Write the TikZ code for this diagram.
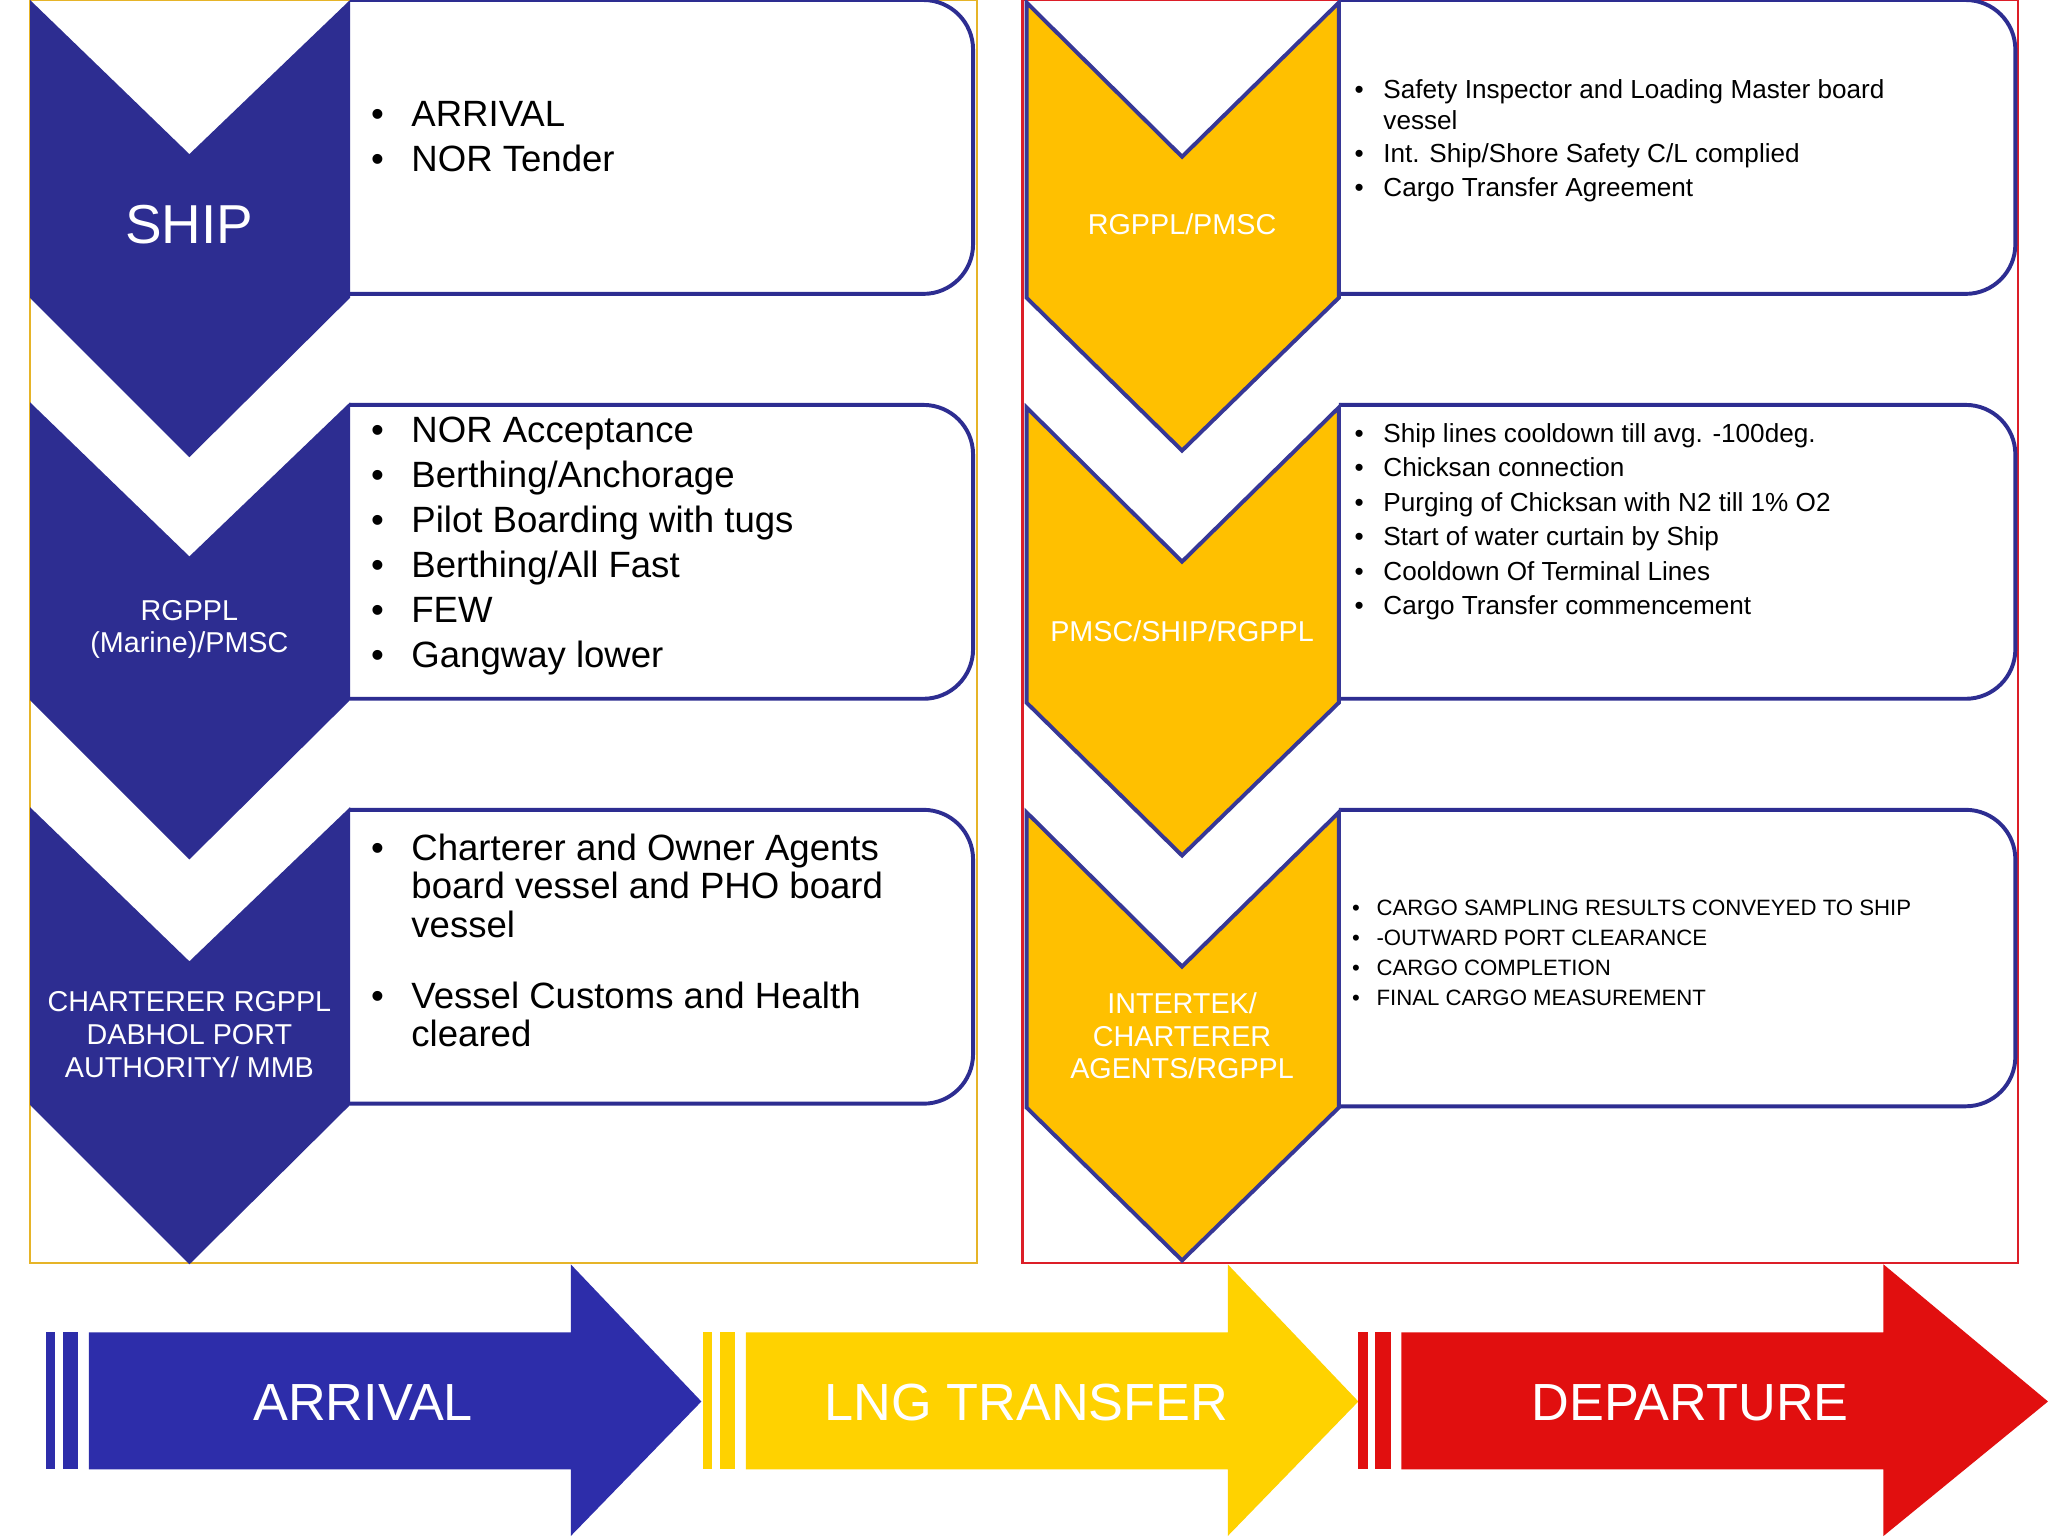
\documentclass[tikz,border=0pt]{standalone}
\usepackage{fontspec}
\setmainfont{Liberation Sans}
\newcommand\bul{\makebox[1.1em][l]{\textbullet}}
\newcommand\ind{\hspace*{1.1em}}
\begin{document}
\begin{tikzpicture}[x=1pt,y=-1pt,
  navy/.style={fill={rgb,255:red,45;green,45;blue,145}},
  chevY/.style={fill={rgb,255:red,255;green,192;blue,0},draw={rgb,255:red,55;green,55;blue,150},line width=3pt,line join=miter},
  box/.style={draw={rgb,255:red,45;green,45;blue,145},line width=3pt,rounded corners=38pt,fill=white},
  clab/.style={text=white,align=center,font=\fontsize{22}{25}\selectfont},
  btxt/.style={anchor=north west,align=left,inner sep=0pt},
  alab/.style={text=white,font=\fontsize{40}{44}\selectfont}]
\useasboundingbox (0,0) rectangle (1568,1176);
\fill[white] (0,0) rectangle (1568,1176);
% frames
\draw[line width=2pt,draw={rgb,255:red,230;green,180;blue,40}] (23,0) rectangle (748,967);
\draw[line width=2pt,draw={rgb,255:red,220;green,30;blue,40}] (783,0) rectangle (1545,967);
% left boxes
\draw[box] (268,0) -- (745,0) -- (745,225) -- (268,225);
\draw[box] (268,310) -- (745,310) -- (745,535) -- (268,535);
\draw[box] (268,620) -- (745,620) -- (745,845) -- (268,845);
% left chevrons
\foreach \t/\n in {0/c1,308/c2,618/c3}{
  \fill[navy] (23,\t) -- (145,\t+118) -- (268,\t) -- (268,\t+228) -- (145,\t+350) -- (23,\t+228) -- cycle;}
\node[clab,font=\fontsize{42}{46}\selectfont] (s1) at (145,172) {SHIP};
\node[clab] (s2) at (145,482) {RGPPL\\(Marine)/PMSC};
\node[clab] (s3) at (145,792) {CHARTERER RGPPL\\DABHOL PORT\\AUTHORITY/ MMB};
% right boxes
\draw[box] (1025,0) -- (1543,0) -- (1543,225) -- (1025,225);
\draw[box] (1025,310) -- (1543,310) -- (1543,535) -- (1025,535);
\draw[box] (1025,620) -- (1543,620) -- (1543,847) -- (1025,847);
\foreach \t in {0,310,620}{
  \draw[chevY] (786,\t+2) -- (905,\t+120) -- (1025,\t+2) -- (1025,\t+228) -- (905,\t+345) -- (786,\t+228) -- cycle;}
\node[clab] (r1) at (905,172) {RGPPL/PMSC};
\node[clab] (r2) at (905,483) {PMSC/SHIP/RGPPL};
\node[clab] (r3) at (905,793) {INTERTEK/\\CHARTERER\\AGENTS/RGPPL};
% texts left
\node[btxt,font=\fontsize{28}{34.5}\selectfont] (t1) at (284,77) {\bul ARRIVAL\\\bul NOR Tender};
\node[btxt,font=\fontsize{28}{34.4}\selectfont] (t2) at (284,319) {\bul NOR Acceptance\\\bul Berthing/Anchorage\\\bul Pilot Boarding with tugs\\\bul Berthing/All Fast\\\bul FEW\\\bul Gangway lower};
\node[btxt,font=\fontsize{28}{29.5}\selectfont] (t3) at (284,638) {\bul Charterer and Owner Agents\\\ind board vessel and PHO board\\\ind vessel\\[25pt]\bul Vessel Customs and Health\\\ind cleared};
% texts right
\node[btxt,font=\fontsize{20}{25.5}\selectfont] (u1) at (1037,61) {\bul Safety Inspector and Loading Master board\\[-2pt]\ind vessel\\\bul Int. Ship/Shore Safety C/L complied\\\bul Cargo Transfer Agreement};
\node[btxt,font=\fontsize{20}{26.4}\selectfont] (u2) at (1037,324) {\bul Ship lines cooldown  till avg. -100deg.\\\bul Chicksan connection\\\bul Purging of Chicksan with N2 till 1\% O2\\\bul Start of water curtain by Ship\\\bul Cooldown Of Terminal Lines\\\bul Cargo Transfer commencement};
\node[btxt,font=\fontsize{17}{23}\selectfont] (u3) at (1035,689) {\bul CARGO SAMPLING RESULTS CONVEYED TO SHIP\\\bul -OUTWARD PORT  CLEARANCE\\\bul CARGO COMPLETION\\\bul FINAL CARGO MEASUREMENT};
% bottom arrows
\foreach \x/\col/\tip in {35/{rgb,255:red,45;green,45;blue,170}/537, 538/{rgb,255:red,255;green,210;blue,0}/1040, 1040/{rgb,255:red,225;green,15;blue,15}/1568}{
  \fill[fill=\col] (\x,1020) rectangle (\x+7,1125);
  \fill[fill=\col] (\x+13,1020) rectangle (\x+25,1125);
  \fill[fill=\col] (\x+33,1020) -- (\x+402,1020) -- (\x+402,968) -- (\tip,1073) -- (\x+402,1176) -- (\x+402,1125) -- (\x+33,1125) -- cycle;}
\node[alab] (a1) at (278,1074) {ARRIVAL};
\node[alab] (a2) at (786,1074) {LNG TRANSFER};
\node[alab] (a3) at (1294,1074) {DEPARTURE};
\end{tikzpicture}
\end{document}
